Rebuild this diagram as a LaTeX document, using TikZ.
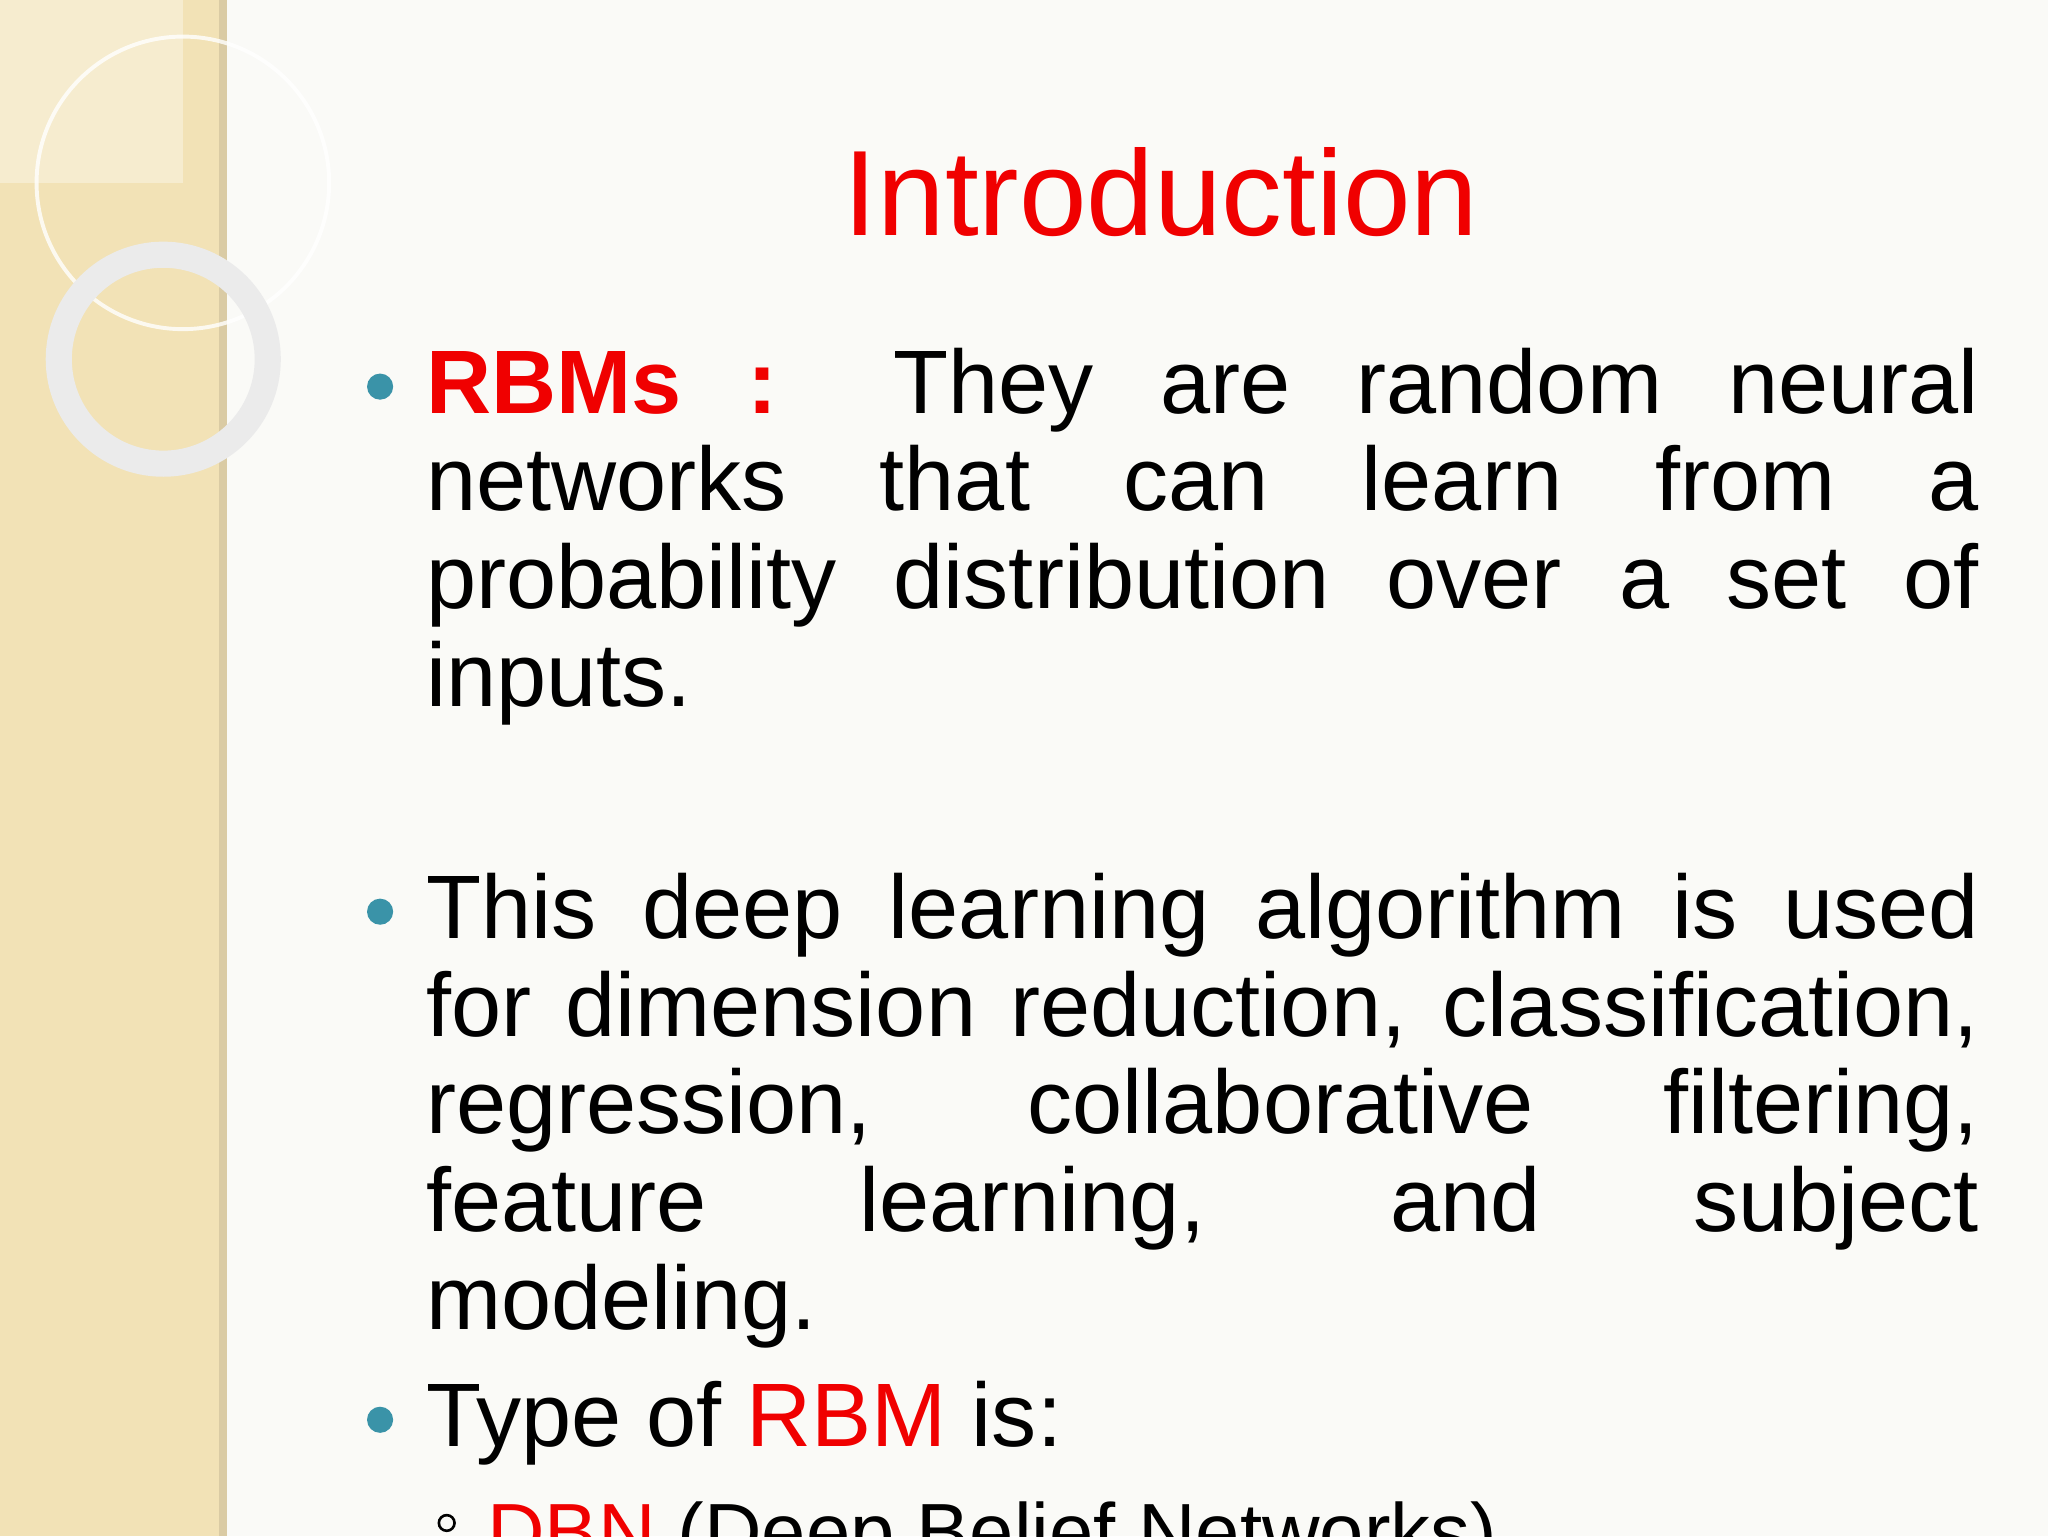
\documentclass[tikz,border=0pt]{standalone}
\usepackage{fontspec}
\setmainfont{Liberation Sans}
\definecolor{strip}{HTML}{F2E2B6}
\definecolor{bgmain}{HTML}{FAFAF7}
\definecolor{tred}{HTML}{F00000}
\definecolor{teal}{HTML}{3A93A8}
\tikzset{para/.style={anchor=north west,inner sep=0pt,text width=1189pt,align=justify,font=\fontsize{69}{75}\selectfont},
bul/.style={circle,fill=teal,inner sep=0pt,minimum size=20pt}}
\begin{document}
\begin{tikzpicture}[x=1pt,y=-1pt]
\useasboundingbox (0,0) rectangle (1568,1176);
\clip (0,0) rectangle (1568,1176);
\fill[bgmain] (0,0) rectangle (1568,1176);
\fill[strip] (0,0) rectangle (172,1176);
\fill[black!10!strip] (168,0) rectangle (174,1176);
\fill[white,opacity=0.35] (0,0) rectangle (140,140);
\draw[white,line width=3pt,opacity=0.8] (140,140) circle (112);
\draw[black!8!white,line width=20pt] (125,275) circle (80);
\node[anchor=base,text=tred,font=\fontsize{93}{100}\selectfont] (title) at (889,180) {Introduction};
\node[bul] (b1) at (291,296) {};
\node[para] (p1) at (326,263.5) {\strut\textcolor{tred}{\textbf{RBMs :}} They are random neural\linebreak networks that can learn from a\linebreak probability distribution over a set of\linebreak inputs.};
\node[bul] (b2) at (291,698) {};
\node[para] (p2) at (326,665.5) {\strut This deep learning algorithm is used\linebreak for dimension reduction, classification,\linebreak regression, collaborative filtering,\linebreak feature learning, and subject\linebreak modeling.};
\node[bul] (b3) at (291,1087) {};
\node[para] (p3) at (326,1054.5) {\strut Type of \textcolor{tred}{RBM} is:};
\draw[line width=2pt] (342,1166) circle (6);
\node[anchor=base west,inner sep=0pt,font=\fontsize{61}{66}\selectfont] (sub) at (373,1194) {\textcolor{tred}{DBN} (Deep Belief Networks)};
\end{tikzpicture}
\end{document}
